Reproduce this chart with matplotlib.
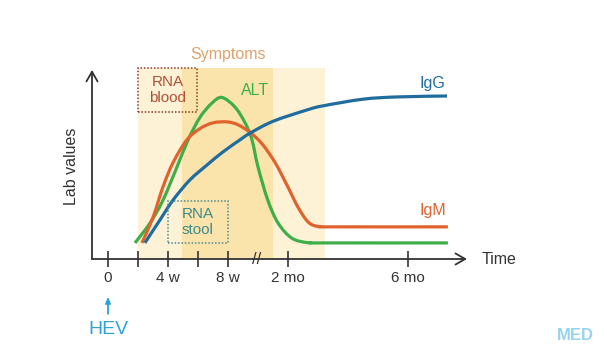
import numpy as np
import matplotlib
matplotlib.use("Agg")
import matplotlib.pyplot as plt
from matplotlib.patches import Rectangle, PathPatch
from matplotlib.path import Path

plt.rcParams['font.family'] = ['Liberation Sans', 'DejaVu Sans']

# x in 2-week tick units (0 = infection), y in arbitrary lab value units 0-100
tick_pos = [0, 1, 2, 3, 4, 6, 10]
tick_labels = ['0', '', '4 w', '', '8 w', '2 mo', '6 mo']

alt_x = [0.9, 1.4, 1.83, 2.3, 2.67, 3.07, 3.47, 3.8, 4.23, 4.57, 4.8, 5.0,
         5.33, 5.67, 6.13, 6.67, 7.2, 11.33]
alt_y = [8.5, 19, 31, 48.7, 63, 75, 82.5, 85.4, 80.4, 72, 63, 48.7,
         31, 19, 11, 8.6, 8.5, 8.5]

igm_x = [1.13, 1.5, 1.83, 2.17, 2.63, 3.07, 3.5, 3.97, 4.33, 4.73, 5.13,
         5.57, 6.0, 6.33, 6.67, 7.0, 7.5, 11.33]
igm_y = [8.5, 22, 38, 51, 63, 69, 72, 72.5, 71, 67, 61,
         51, 38, 27.5, 19.6, 17.2, 17, 17]

igg_x = [1.23, 1.73, 2.17, 2.73, 3.3, 3.83, 4.4, 4.73, 5.5, 6.63, 7.17,
         8.5, 9.63, 11.3]
igg_y = [8.5, 20.6, 31.2, 41.8, 49.7, 56.6, 63, 66.5, 72.8, 78.8, 81,
         84.5, 85.7, 86.2]

symptoms_span = (1.0, 7.23)
peak_span = (2.47, 5.5)

green = '#3fae49'
orange = '#e0622d'
blue = '#1f6c9e'
axis_col = '#333333'


def smooth_path(xs, ys):
    """ Bezier path through the read points (Catmull-Rom tangents). """
    p = np.column_stack([xs, ys])
    ext = np.vstack([p[0], p, p[-1]])
    verts = [p[0]]
    codes = [Path.MOVETO]
    for i in range(len(p) - 1):
        a, b, c, d = ext[i], ext[i + 1], ext[i + 2], ext[i + 3]
        verts += [b + (c - a) / 6, c - (d - b) / 6, c]
        codes += [Path.CURVE4] * 3
    return Path(verts, codes)


fig = plt.figure(figsize=(6.07, 3.62), dpi=100)
ax = fig.add_axes([92 / 607, 1 - 259 / 362, 375 / 607, 191 / 362])
ax.set_xlim(-0.533, 11.967)
ax.set_ylim(0, 101)
for s in ax.spines.values():
    s.set_visible(False)

# symptom bands
ax.axvspan(*symptoms_span, color='#fdf2d6', zorder=0, lw=0)
ax.axvspan(*peak_span, color='#fbe4ab', zorder=0.5, lw=0)

# curves
for xs, ys, col in [(alt_x, alt_y, green), (igm_x, igm_y, orange), (igg_x, igg_y, blue)]:
    ax.add_patch(PathPatch(smooth_path(xs, ys), fill=False, ec=col, lw=2.3,
                           capstyle='butt', zorder=3))

# axes with arrows
arr = dict(arrowstyle='->, head_length=0.7, head_width=0.4', color=axis_col, lw=1.3,
           shrinkA=0, shrinkB=0)
ax.annotate('', xy=(11.967, 0), xytext=(-0.533, 0), arrowprops=arr, annotation_clip=False)
ax.annotate('', xy=(-0.533, 100), xytext=(-0.533, 0), arrowprops=arr, annotation_clip=False)

ax.set_xticks(tick_pos)
ax.set_xticklabels(tick_labels)
ax.tick_params(axis='x', direction='inout', length=11, width=1.2, color=axis_col,
               labelsize=11, labelcolor=axis_col, pad=3)
ax.set_yticks([])
ax.text(4.97, 0, '//', ha='center', va='center', fontsize=12, color=axis_col)

ax.text(12.47, 0, 'Time', ha='left', va='center', fontsize=11.5, color=axis_col, clip_on=False)
ax.text(-1.2, 49, 'Lab values', ha='center', va='center', rotation=90, fontsize=11.5,
        color=axis_col, clip_on=False)

# HEV marker
hev = '#2ea3d5'
ax.annotate('', xy=(0, -20), xytext=(0, -29),
            arrowprops=dict(arrowstyle='-|>, head_length=0.35, head_width=0.15',
                            color=hev, lw=1.3, shrinkA=0, shrinkB=0),
            annotation_clip=False)
ax.text(0, -37.5, 'HEV', ha='center', va='center', fontsize=14, color=hev, clip_on=False)

# labels
ax.text(4.0, 108, 'Symptoms', ha='center', va='center', fontsize=11.5, color='#dca26a',
        clip_on=False)
ax.text(4.9, 89, 'ALT', ha='center', va='center', fontsize=11.5, color=green)
ax.text(10.83, 93, 'IgG', ha='center', va='center', fontsize=11.5, color=blue)
ax.text(10.83, 25.4, 'IgM', ha='center', va='center', fontsize=11.5, color=orange)

ax.add_patch(Rectangle((1.0, 77.8), 1.97, 23.2, fill=False, ls=(0, (1, 1.2)),
                       lw=1.1, ec='#8a3b2b', zorder=4, clip_on=False))
ax.text(1.98, 89.4, 'RNA\nblood', ha='center', va='center', fontsize=11, color='#b0503a',
        linespacing=1.25, zorder=4)

ax.add_patch(Rectangle((2.0, 8.5), 2.0, 22.2, fill=False, ls=(0, (1, 1.2)),
                       lw=1.1, ec='#4a8a90', zorder=4))
ax.text(3.0, 19.6, 'RNA\nstool', ha='center', va='center', fontsize=11, color='#3d8a8a',
        linespacing=1.25, zorder=4)

fig.text(575 / 607, 1 - 336 / 362, 'MED', ha='center', va='center', fontsize=12,
         fontweight='bold', color='#7cc8ee', alpha=0.8)

fig.savefig('out.png', dpi=100)
